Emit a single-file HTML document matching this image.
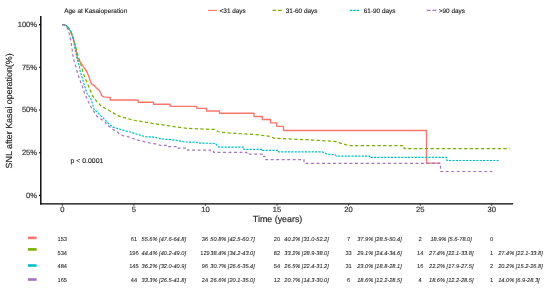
<!DOCTYPE html>
<html><head><meta charset="utf-8"><title>KM plot</title>
<style>
html,body{margin:0;padding:0;background:#fff;width:550px;height:290px;overflow:hidden}
svg{display:block}
text{font-family:"Liberation Sans",Arial,sans-serif;fill:#1a1a1a;text-rendering:geometricPrecision}
.lg{font-size:6.4px;fill:#1a1a1a;stroke:#1a1a1a;stroke-width:0.12px}
.tk{font-size:7.6px;fill:#333;stroke:#333;stroke-width:0.18px}
.ttl{font-size:8.9px;fill:#1a1a1a;stroke:#1a1a1a;stroke-width:0.15px}
.yt{font-size:8.9px;fill:#1a1a1a;stroke:#1a1a1a;stroke-width:0.15px}
.pv{font-size:6.9px;fill:#1a1a1a;stroke:#1a1a1a;stroke-width:0.12px}
.rn{font-size:5.7px;fill:#1a1a1a;stroke:#1a1a1a;stroke-width:0.05px}
.rp{font-size:5.65px;font-style:italic;fill:#1a1a1a;stroke:#1a1a1a;stroke-width:0.06px}
</style></head><body>
<svg width="550" height="290" viewBox="0 0 550 290">
<rect width="550" height="290" fill="#fff"/>
<g>
<text x="64.3" y="12.9" class="lg">Age at Kasaioperation</text>
<line x1="208" y1="10.4" x2="217" y2="10.4" stroke="#F8766D" stroke-width="1.1"/>
<text x="219.6" y="12.9" class="lg">&lt;31 days</text>
<line x1="272.5" y1="10.4" x2="282" y2="10.4" stroke="#7CAE00" stroke-width="1.1" stroke-dasharray="3.6 2.0"/>
<text x="285.8" y="12.9" class="lg">31-60 days</text>
<line x1="349.8" y1="10.4" x2="359.2" y2="10.4" stroke="#00BFC4" stroke-width="1.1" stroke-dasharray="2.6 0.8"/>
<text x="363.8" y="12.9" class="lg">61-90 days</text>
<line x1="426.8" y1="10.4" x2="436.3" y2="10.4" stroke="#A374BE" stroke-width="1.1" stroke-dasharray="3.8 1.9"/>
<text x="438.8" y="12.9" class="lg">&gt;90 days</text>
<polyline points="62.3,24.7 64.5,24.9 66.2,25.6 68.0,27.3 69.4,29.3 70.6,31.3 71.6,33.8 72.8,37.0 73.9,40.2 75.1,45.0 75.7,47.5 76.6,53.0 77.4,58.0 78.6,60.0 81.0,63.0 84.3,68.0 86.5,71.0 88.8,76.2 90.6,81.6 91.5,83.9 93.8,85.3 95.5,87.0 97.5,88.9 99.3,90.3 101.1,93.5 101.5,95.5 103.8,96.8 109.3,97.3 110.2,97.3 110.2,100.0 138.2,100.0 138.2,102.2 153.5,102.2 153.5,104.2 170.1,104.2 170.1,106.3 196.8,106.3 196.8,108.3 206.5,108.3 206.5,111.0 219.5,111.0 219.5,113.2 254.0,113.2 254.0,116.5 262.3,116.5 262.3,119.5 270.5,119.5 270.5,122.8 276.8,122.8 276.8,126.3 283.5,126.3 283.5,130.5 426.5,130.5 426.5,163.1 440.0,163.1" fill="none" stroke="#F8766D" stroke-width="1.35" stroke-linejoin="round"/>
<polyline points="62.3,24.7 64.5,24.9 66.2,25.6 68.0,27.3 69.4,29.3 70.6,31.3 71.6,33.8 72.8,37.0 73.9,40.2 75.0,45.0 75.8,48.0 77.2,53.0 78.7,58.0 80.5,63.0 82.0,68.0 82.6,71.0 84.7,77.1 87.5,83.5 91.1,92.5 92.9,96.4 97.0,101.8 102.0,106.8 108.4,110.0 117.5,115.5 122.3,117.2 135.0,120.5 151.4,123.2 169.5,125.9 186.8,128.3 215.0,129.5 218.0,131.5 221.0,132.3 237.7,133.5 255.0,134.5 269.5,136.3 275.0,138.3 313.2,140.1 335.0,141.4 339.0,142.7 344.1,144.2 347.9,145.5 404.1,145.5 404.1,148.5 509.5,148.5" fill="none" stroke="#7CAE00" stroke-width="1.25" stroke-linejoin="round" stroke-dasharray="3.3 2.3"/>
<polyline points="62.3,24.7 64.5,24.9 66.2,25.6 68.0,27.3 69.4,29.3 70.6,31.3 71.6,33.8 72.8,37.5 73.6,41.0 74.2,45.0 75.5,51.0 76.9,58.0 78.5,63.0 79.7,68.0 80.1,71.0 82.5,78.9 84.7,86.2 87.0,93.5 90.6,98.2 92.5,103.6 93.8,108.9 97.5,112.5 101.1,116.2 104.7,119.4 108.8,123.9 112.9,127.1 117.5,128.5 122.0,129.8 126.5,131.2 132.0,132.5 137.7,134.5 142.3,135.9 146.8,136.8 151.4,136.8 155.9,137.7 160.5,138.6 164.5,139.3 170.9,139.6 176.4,140.4 178.5,140.9 185.1,142.0 196.0,142.2 198.2,143.1 212.3,143.3 215.6,143.6 217.8,146.6 220.0,147.2 243.8,147.2 243.8,149.3 262.5,149.3 262.5,150.4 278.6,150.4 278.6,151.9 322.3,151.9 327.5,154.2 335.2,154.8 336.5,156.1 369.5,156.1 369.5,157.4 446.8,157.4 446.8,160.5 498.6,160.5" fill="none" stroke="#00BFC4" stroke-width="1.2" stroke-linejoin="round" stroke-dasharray="2.2 1.2"/>
<polyline points="62.3,24.7 64.5,25.0 66.0,26.0 68.0,29.5 69.8,35.6 70.8,40.5 71.6,45.6 73.3,58.0 74.8,63.0 76.1,68.0 77.9,74.4 80.2,80.7 82.5,87.1 84.3,92.5 87.5,100.0 90.5,106.0 93.4,110.7 95.6,114.8 98.4,117.5 102.0,119.8 105.6,122.5 106.5,125.0 110.2,127.1 113.4,129.8 116.4,130.9 119.5,134.1 123.6,135.9 128.6,136.8 132.7,138.5 136.8,139.8 141.4,141.2 146.4,142.1 150.5,143.2 155.5,143.9 160.0,145.3 168.0,145.3 168.0,146.6 178.0,146.6 178.0,148.2 187.5,148.2 187.5,150.2 210.5,150.2 210.5,150.7 213.5,150.7 213.5,152.3 246.8,152.3 246.8,154.1 262.3,154.1 262.3,156.4 265.0,156.4 265.0,159.6 304.0,159.6 304.0,163.3 440.5,163.3 440.5,171.5 492.3,171.5" fill="none" stroke="#A374BE" stroke-width="1.2" stroke-linejoin="round" stroke-dasharray="2.9 2.6"/>
<line x1="40.8" y1="16" x2="40.8" y2="204.5" stroke="#000" stroke-width="1.4"/>
<line x1="40.2" y1="203.9" x2="513.2" y2="203.9" stroke="#000" stroke-width="1.4"/>
<line x1="39.0" y1="24.6" x2="40.5" y2="24.6" stroke="#000" stroke-width="1.1"/>
<text x="37.1" y="26.9" class="tk" text-anchor="end">100%</text>
<line x1="39.0" y1="67.3" x2="40.5" y2="67.3" stroke="#000" stroke-width="1.1"/>
<text x="37.1" y="69.6" class="tk" text-anchor="end">75%</text>
<line x1="39.0" y1="110.0" x2="40.5" y2="110.0" stroke="#000" stroke-width="1.1"/>
<text x="37.1" y="112.3" class="tk" text-anchor="end">50%</text>
<line x1="39.0" y1="152.7" x2="40.5" y2="152.7" stroke="#000" stroke-width="1.1"/>
<text x="37.1" y="155.0" class="tk" text-anchor="end">25%</text>
<line x1="39.0" y1="195.4" x2="40.5" y2="195.4" stroke="#000" stroke-width="1.1"/>
<text x="37.1" y="197.7" class="tk" text-anchor="end">0%</text>
<line x1="62.3" y1="204.3" x2="62.3" y2="205.6" stroke="#000" stroke-width="1.0"/>
<text x="62.3" y="212.0" class="tk" text-anchor="middle">0</text>
<line x1="133.9" y1="204.3" x2="133.9" y2="205.6" stroke="#000" stroke-width="1.0"/>
<text x="133.9" y="212.0" class="tk" text-anchor="middle">5</text>
<line x1="205.4" y1="204.3" x2="205.4" y2="205.6" stroke="#000" stroke-width="1.0"/>
<text x="205.4" y="212.0" class="tk" text-anchor="middle">10</text>
<line x1="277.0" y1="204.3" x2="277.0" y2="205.6" stroke="#000" stroke-width="1.0"/>
<text x="277.0" y="212.0" class="tk" text-anchor="middle">15</text>
<line x1="348.6" y1="204.3" x2="348.6" y2="205.6" stroke="#000" stroke-width="1.0"/>
<text x="348.6" y="212.0" class="tk" text-anchor="middle">20</text>
<line x1="420.2" y1="204.3" x2="420.2" y2="205.6" stroke="#000" stroke-width="1.0"/>
<text x="420.2" y="212.0" class="tk" text-anchor="middle">25</text>
<line x1="491.7" y1="204.3" x2="491.7" y2="205.6" stroke="#000" stroke-width="1.0"/>
<text x="491.7" y="212.0" class="tk" text-anchor="middle">30</text>
<text x="277.6" y="221.8" class="ttl" text-anchor="middle">Time (years)</text>
<text transform="translate(11.7,110.9) rotate(-90)" class="yt" text-anchor="middle">SNL after Kasai operation(%)</text>
<text x="70.6" y="163.1" class="pv">p &lt; 0.0001</text>
<line x1="27.9" y1="237.9" x2="36.6" y2="237.9" stroke="#F8766D" stroke-width="2.6"/>
<line x1="27.9" y1="249.4" x2="36.6" y2="249.4" stroke="#7CAE00" stroke-width="2.6"/>
<line x1="27.9" y1="265.5" x2="36.6" y2="265.5" stroke="#00BFC4" stroke-width="2.6"/>
<line x1="27.9" y1="279.5" x2="36.6" y2="279.5" stroke="#A374BE" stroke-width="2.6"/>
<text x="62.3" y="241.0" class="rn" text-anchor="middle">153</text>
<text x="133.9" y="241.0" class="rn" text-anchor="middle">61</text>
<text x="141.5" y="241.0" class="rp">55.6% [47.6-64.8]</text>
<text x="205.0" y="241.0" class="rn" text-anchor="middle">36</text>
<text x="210.3" y="241.0" class="rp">50.8% [42.5-60.7]</text>
<text x="277.0" y="241.0" class="rn" text-anchor="middle">20</text>
<text x="284.3" y="241.0" class="rp">40.2% [31.0-52.2]</text>
<text x="348.6" y="241.0" class="rn" text-anchor="middle">7</text>
<text x="357.2" y="241.0" class="rp">37.9% [28.5-50.4]</text>
<text x="420.2" y="241.0" class="rn" text-anchor="middle">2</text>
<text x="430.4" y="241.0" class="rp">18.9% [5.6-78.0]</text>
<text x="491.7" y="241.0" class="rn" text-anchor="middle">0</text>
<text x="62.3" y="255.0" class="rn" text-anchor="middle">534</text>
<text x="133.9" y="255.0" class="rn" text-anchor="middle">196</text>
<text x="141.5" y="255.0" class="rp">44.4% [40.2-49.0]</text>
<text x="205.0" y="255.0" class="rn" text-anchor="middle">129</text>
<text x="210.3" y="255.0" class="rp">38.4% [34.2-43.0]</text>
<text x="277.0" y="255.0" class="rn" text-anchor="middle">82</text>
<text x="284.3" y="255.0" class="rp">33.2% [28.9-38.0]</text>
<text x="348.6" y="255.0" class="rn" text-anchor="middle">33</text>
<text x="357.2" y="255.0" class="rp">29.1% [24.4-34.6]</text>
<text x="420.2" y="255.0" class="rn" text-anchor="middle">14</text>
<text x="429.0" y="255.0" class="rp">27.4% [22.1-33.8]</text>
<text x="491.7" y="255.0" class="rn" text-anchor="middle">1</text>
<text x="498.2" y="255.0" class="rp">27.4% [22.1-33.8]</text>
<text x="62.3" y="268.0" class="rn" text-anchor="middle">484</text>
<text x="133.9" y="268.0" class="rn" text-anchor="middle">145</text>
<text x="141.5" y="268.0" class="rp">36.2% [32.0-40.9]</text>
<text x="205.0" y="268.0" class="rn" text-anchor="middle">96</text>
<text x="210.3" y="268.0" class="rp">30.7% [26.6-35.4]</text>
<text x="277.0" y="268.0" class="rn" text-anchor="middle">54</text>
<text x="284.3" y="268.0" class="rp">26.5% [22.4-31.2]</text>
<text x="348.6" y="268.0" class="rn" text-anchor="middle">31</text>
<text x="357.2" y="268.0" class="rp">23.0% [18.8-28.1]</text>
<text x="420.2" y="268.0" class="rn" text-anchor="middle">16</text>
<text x="429.0" y="268.0" class="rp">22.2% [17.9-27.5]</text>
<text x="491.7" y="268.0" class="rn" text-anchor="middle">2</text>
<text x="498.2" y="268.0" class="rp">20.2% [15.2-26.8]</text>
<text x="62.3" y="282.0" class="rn" text-anchor="middle">165</text>
<text x="133.9" y="282.0" class="rn" text-anchor="middle">44</text>
<text x="141.5" y="282.0" class="rp">33.3% [26.5-41.8]</text>
<text x="205.0" y="282.0" class="rn" text-anchor="middle">24</text>
<text x="210.3" y="282.0" class="rp">26.6% [20.1-35.0]</text>
<text x="277.0" y="282.0" class="rn" text-anchor="middle">12</text>
<text x="284.3" y="282.0" class="rp">20.7% [14.3-30.0]</text>
<text x="348.6" y="282.0" class="rn" text-anchor="middle">6</text>
<text x="357.2" y="282.0" class="rp">18.6% [12.2-28.5]</text>
<text x="420.2" y="282.0" class="rn" text-anchor="middle">4</text>
<text x="429.0" y="282.0" class="rp">18.6% [12.2-28.5]</text>
<text x="491.7" y="282.0" class="rn" text-anchor="middle">1</text>
<text x="498.2" y="282.0" class="rp">14.0% [6.9-28.3]</text>
</g>
</svg>
</body></html>
